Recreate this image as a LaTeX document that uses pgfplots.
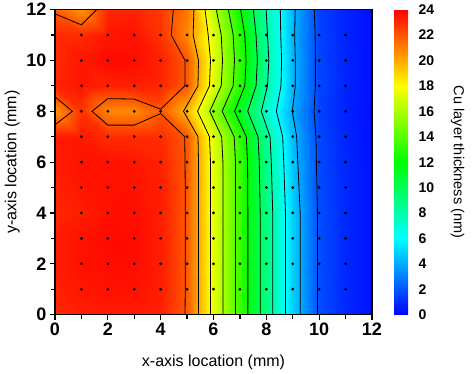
\documentclass[border=0pt]{standalone}
\usepackage{fontspec}
\setmainfont{Liberation Sans}
\usepackage{pgfplots}
\pgfplotsset{compat=1.18}
\usepackage{pgfplotstable}

\pgfplotstableread{
x y z
0 0 23.0
1 0 23.3
2 0 23.4
3 0 23.4
4 0 23.2
5 0 21.9
6 0 17.51
7 0 13.3
8 0 9.0
9 0 4.86
10 0 1.8
11 0 0.9
12 0 0.4
0 1 23.2
1 1 23.5
2 1 23.6
3 1 23.6
4 1 23.3
5 1 21.9
6 1 17.51
7 1 13.3
8 1 9.0
9 1 4.86
10 1 1.8
11 1 0.9
12 1 0.4
0 2 23.3
1 2 23.6
2 2 23.7
3 2 23.7
4 2 23.3
5 2 21.9
6 2 17.51
7 2 13.3
8 2 9.0
9 2 4.86
10 2 1.8
11 2 0.9
12 2 0.4
0 3 23.3
1 3 23.6
2 3 23.8
3 3 23.7
4 3 23.3
5 3 21.9
6 3 17.51
7 3 13.3
8 3 9.0
9 3 4.86
10 3 1.8
11 3 0.9
12 3 0.4
0 4 23.1
1 4 23.3
2 4 23.6
3 4 23.7
4 4 23.3
5 4 21.9
6 4 17.51
7 4 13.3
8 4 9.0
9 4 4.86
10 4 1.8
11 4 0.9
12 4 0.4
0 5 23.2
1 5 23.5
2 5 23.6
3 5 23.6
4 5 23.3
5 5 21.9
6 5 17.51
7 5 13.3
8 5 8.9
9 5 4.7
10 5 1.75
11 5 0.88
12 5 0.4
0 6 23.3
1 6 23.6
2 6 23.6
3 6 23.5
4 6 23.2
5 6 21.9
6 6 17.5
7 6 13.3
8 6 8.8
9 6 4.55
10 6 1.7
11 6 0.88
12 6 0.38
0 7 23.37
1 7 23.4
2 7 23.0
3 7 23.0
4 7 23.0
5 7 21.9
6 7 17.3
7 7 13.08
8 7 8.59
9 7 4.4
10 7 1.67
11 7 0.85
12 7 0.37
0 8 20.45
1 8 22.8
2 8 20.8
3 8 20.8
4 8 21.9
5 8 19.7
6 8 15.4
7 8 11.15
8 8 7.26
9 8 3.94
10 8 1.53
11 8 0.75
12 8 0.34
0 9 23.17
1 9 23.5
2 9 23.2
3 9 23.3
4 9 23.1
5 9 21.9
6 9 17.3
7 9 12.87
8 9 8.17
9 9 4.25
10 9 1.62
11 9 0.8
12 9 0.35
0 10 23.0
1 10 23.5
2 10 23.8
3 10 23.7
4 10 23.2
5 10 21.9
6 10 17.5
7 10 13.1
8 10 8.4
9 10 4.25
10 10 1.62
11 10 0.8
12 10 0.35
0 11 23.0
1 11 23.0
2 11 23.5
3 11 23.6
4 11 22.8
5 11 20.8
6 11 17.3
7 11 12.87
8 11 8.17
9 11 4.19
10 11 1.6
11 11 0.8
12 11 0.35
0 12 21.8
1 12 20.5
2 12 23.1
3 12 23.2
4 12 22.7
5 12 21.24
6 12 16.46
7 12 12.1
8 12 7.97
9 12 4.25
10 12 1.5
11 12 0.8
12 12 0.35
}\cudata

\begin{document}
\begin{tikzpicture}
\begin{axis}[
  name=main,
  scale only axis, width=317pt, height=305pt,
  xmin=0, xmax=12, ymin=0, ymax=12,
  xtick={0,2,...,12}, ytick={0,2,...,12},
  minor xtick={1,3,...,11}, minor ytick={1,3,...,11},
  tick align=outside, xtick pos=bottom, ytick pos=left,
  major tick length=5pt, minor tick length=4pt,
  every tick/.style={black, line width=1.2pt},
  axis line style={line width=1.1pt},
  /pgf/number format/assume math mode=true,
  tick label style={font=\fontsize{18}{18}\selectfont\bfseries},
  xlabel={x-axis location (mm)}, ylabel={y-axis location (mm)},
  label style={font=\fontsize{16}{16}\selectfont},
  xlabel style={yshift=-12pt},
  axis on top,
  colormap={cu}{rgb255(0cm)=(0,0,255); rgb255(1cm)=(0,255,255); rgb255(2cm)=(0,255,0); rgb255(3cm)=(255,255,0); rgb255(4cm)=(255,0,0)},
  point meta min=0, point meta max=24,
  colorbar,
  colorbar shift/.style={xshift=22pt},
  colorbar style={
    width=21pt,
    at={(parent axis.north east)}, anchor=north west,
    ytick={0,2,...,24},
    /pgf/number format/assume math mode=true,
    yticklabel style={font=\fontsize{14}{14}\selectfont\bfseries},
    axis line style={draw=none},
    major tick length=0pt,
    ylabel={Cu layer thickness (nm)},
    ylabel shift=10pt,
    ylabel style={font=\fontsize{14.5}{14.5}\selectfont, rotate=180},
  },
]
\addplot[surf, shader=interp, mesh/cols=13, point meta=explicit] table[x=x, y=y, meta=z] {\cudata};
% contour lines
\addplot[black, line width=0.8pt] coordinates {(4.479,12) (4.4,11) (4.923,10) (4.917,9) (4,8.083) (3,8.48) (2,8.5) (1.4,8) (2,7.455) (3,7.455) (4,7.909) (4.909,7) (4.923,6) (4.929,5) (4.929,4) (4.929,3) (4.929,2) (4.929,1) (4.923,0)};
\addplot[black, line width=0.8pt] coordinates {(0,8.57) (0.66,8) (0,7.469)};
\addplot[black, line width=0.8pt] coordinates {(0,11.833) (1,11.4) (1.577,12)};
\addplot[black, line width=0.8pt] coordinates {(5.433,0) (5.433,6) (5.413,7) (4.864,8) (5.413,9) (5.432,10) (5.229,11) (5.259,12)};
\addplot[black, line width=0.8pt] coordinates {(5.888,0) (5.888,5) (5.886,6) (5.848,7) (5.395,8) (5.848,9) (5.886,10) (5.8,11) (5.678,12)};
\addplot[black, line width=0.8pt] coordinates {(6.359,0) (6.359,5) (6.357,6) (6.308,7) (5.86,8) (6.293,9) (6.341,10) (6.293,11) (6.106,12)};
\addplot[black, line width=0.8pt] coordinates {(6.834,0) (6.834,5) (6.833,6) (6.782,7) (6.329,8) (6.745,9) (6.795,10) (6.745,11) (6.564,12)};
\addplot[black, line width=0.8pt] coordinates {(7.302,0) (7.302,4) (7.295,5) (7.289,6) (7.241,7) (6.8,8) (7.185,9) (7.234,10) (7.185,11) (7.024,12)};
\addplot[black, line width=0.8pt] coordinates {(7.767,0) (7.767,4) (7.75,5) (7.733,6) (7.686,7) (7.296,8) (7.611,9) (7.66,10) (7.611,11) (7.508,12)};
\addplot[black, line width=0.8pt] coordinates {(8.242,0) (8.242,4) (8.214,5) (8.188,6) (8.141,7) (7.81,8) (8.043,9) (8.096,10) (8.043,11) (7.993,12)};
\addplot[black, line width=0.8pt] coordinates {(8.725,0) (8.725,4) (8.69,5) (8.659,6) (8.618,7) (8.38,8) (8.554,9) (8.578,10) (8.545,11) (8.53,12)};
\addplot[black, line width=0.8pt] coordinates {(9.281,0) (9.281,4) (9.237,5) (9.193,6) (9.147,7) (8.982,8) (9.095,9) (9.095,10) (9.073,11) (9.091,12)};
\addplot[black, line width=0.8pt] coordinates {(9.935,0) (9.935,4) (9.915,5) (9.895,6) (9.879,7) (9.805,8) (9.856,9) (9.856,10) (9.846,11) (9.818,12)};
% measurement points
\addplot[only marks, mark=*, mark size=1.2pt, black, restrict x to domain=0.5:11.5, restrict y to domain=0.5:11.5] table[x=x, y=y] {\cudata};
\end{axis}
\path (main.south west) ++(-55pt,-59pt) rectangle ++(474pt,372pt);
\end{tikzpicture}
\end{document}
